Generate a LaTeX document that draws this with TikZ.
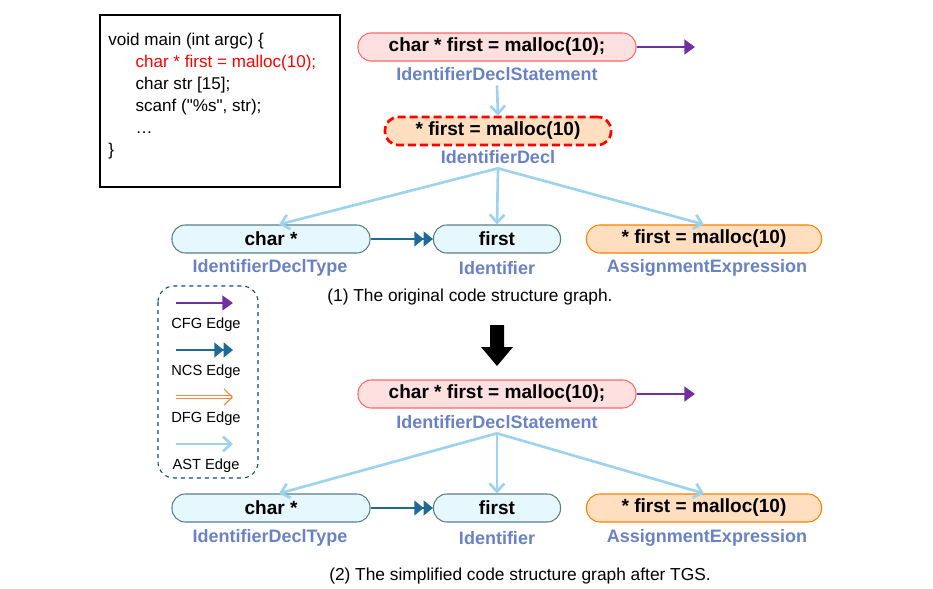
\documentclass[tikz,border=0pt]{standalone}
\usepackage{fontspec}
\setmainfont{Liberation Sans}
\usetikzlibrary{arrows.meta}
\definecolor{lblue}{HTML}{6A82C4}
\definecolor{astc}{HTML}{9DD3EE}
\definecolor{ncsc}{HTML}{1F6A96}
\definecolor{cfgc}{HTML}{7030A0}
\definecolor{dfgc}{HTML}{F28C3C}
\tikzset{
  pill/.style={rounded corners=10pt, minimum height=21pt, inner sep=0pt, font=\bfseries\fontsize{14.3}{15}\selectfont},
  stmt/.style={pill, draw=red!60, fill=red!12, line width=0.8pt},
  decl/.style={pill, draw=red, fill=orange!25, line width=2pt, dash pattern=on 6pt off 3pt},
  leaf/.style={pill, draw=gray!70!teal, fill=cyan!10, line width=0.8pt},
  asg/.style={pill, draw=orange, fill=orange!25, line width=0.8pt},
  lbl/.style={text=lblue, font=\bfseries\fontsize{13.5}{14}\selectfont},
  ast/.style={astc, line width=2pt, -{Straight Barb[length=6pt,width=11pt]}},
  ncs/.style={ncsc, line width=2.2pt, -{Triangle[length=7pt,width=11pt]Triangle[length=7pt,width=11pt]}},
  cfg/.style={cfgc, line width=2pt, -{Triangle[length=8pt,width=11pt]}},
  dfg/.style={dfgc, double, double distance=1.8pt, line width=0.9pt, -{Straight Barb[length=6pt,width=12pt]}},
  capt/.style={font=\fontsize{13}{14}\selectfont}
}
\begin{document}
\begin{tikzpicture}[x=0.75pt, y=-0.75pt]
\useasboundingbox (0,0) rectangle (933,589);

% code box
\draw[line width=1.5pt] (100,15) rectangle (340,187);
\node[anchor=north west, align=left, font=\fontsize{12.8}{16.5}\selectfont, inner sep=0pt] (code) at (108,33)
  {void main (int argc) \{\\
   \hspace*{1.6em}\textcolor{red}{char * first = malloc(10);}\\
   \hspace*{1.6em}char str [15];\\
   \hspace*{1.6em}scanf (\textquotedbl\%s\textquotedbl, str);\\
   \hspace*{1.6em}\dots\\
   \}};

% (1) original graph
\node[stmt, minimum width=278pt*0.75] (s1) at (497,47) {char * first = malloc(10);};
\node[lbl] (s1l) at (497,74) {IdentifierDeclStatement};
\coordinate (c1) at (695,47);
\draw[cfg] (s1.east) -- (c1);
\node[decl, minimum width=226pt*0.75] (d1) at (498,131) {* first = malloc(10)};
\node[lbl] (d1l) at (498,157) {IdentifierDecl};
\draw[ast] (s1l.south) -- (d1.north);

\node[leaf, minimum width=198pt*0.75] (t1) at (271,239) {char *};
\node[leaf, minimum width=127pt*0.75] (f1) at (497,239) {first};
\node[asg, minimum width=235pt*0.75] (a1) at (704,239) {* first = malloc(10)};
\node[lbl] at (270,268) {IdentifierDeclType};
\node[lbl] at (497,268) {Identifier};
\node[lbl] at (707,268) {AssignmentExpression};
\draw[ast] (d1l.south) -- ([xshift=6pt]t1.north);
\draw[ast] (d1l.south) -- (f1.north);
\draw[ast] (d1l.south) -- (a1.north);
\draw[ncs] (t1.east) -- (f1.west);
\node[capt] (cap1) at (470,297) {(1) The original code structure graph.};

% transform arrow
\fill[black] (490,325) -- (504,325) -- (504,347) -- (513,347) -- (497,366) -- (481,347) -- (490,347) -- cycle;

% (2) simplified graph
\node[stmt, minimum width=278pt*0.75] (s2) at (497,394) {char * first = malloc(10);};
\node[lbl] (s2l) at (497,422) {IdentifierDeclStatement};
\coordinate (c2) at (695,394);
\draw[cfg] (s2.east) -- (c2);
\node[leaf, minimum width=198pt*0.75] (t2) at (271,508) {char *};
\node[leaf, minimum width=127pt*0.75] (f2) at (497,508) {first};
\node[asg, minimum width=235pt*0.75] (a2) at (704,508) {* first = malloc(10)};
\node[lbl] at (270,538) {IdentifierDeclType};
\node[lbl] at (497,538) {Identifier};
\node[lbl] at (707,538) {AssignmentExpression};
\draw[ast] (s2l.south) -- ([xshift=6pt]t2.north);
\draw[ast] (s2l.south) -- (f2.north);
\draw[ast] (s2l.south) -- (a2.north);
\draw[ncs] (t2.east) -- (f2.west);
\node[capt] (cap2) at (520,576) {(2) The simplified code structure graph after TGS.};

% legend
\draw[ncsc!70!black, dashed, line width=0.8pt, rounded corners=12pt] (158,286) rectangle (258,478);
\foreach \y/\s/\t in {303/cfg/CFG, 350/ncs/NCS, 397/dfg/DFG, 444/ast/AST} {
  \coordinate (l\t a) at (176,\y);
  \coordinate (l\t b) at (233,\y);
  \draw[\s] (l\t a) -- (l\t b);
  \node[font=\fontsize{11}{12}\selectfont] at (206,\y+22) {\t\ Edge};
}
\end{tikzpicture}
\end{document}
